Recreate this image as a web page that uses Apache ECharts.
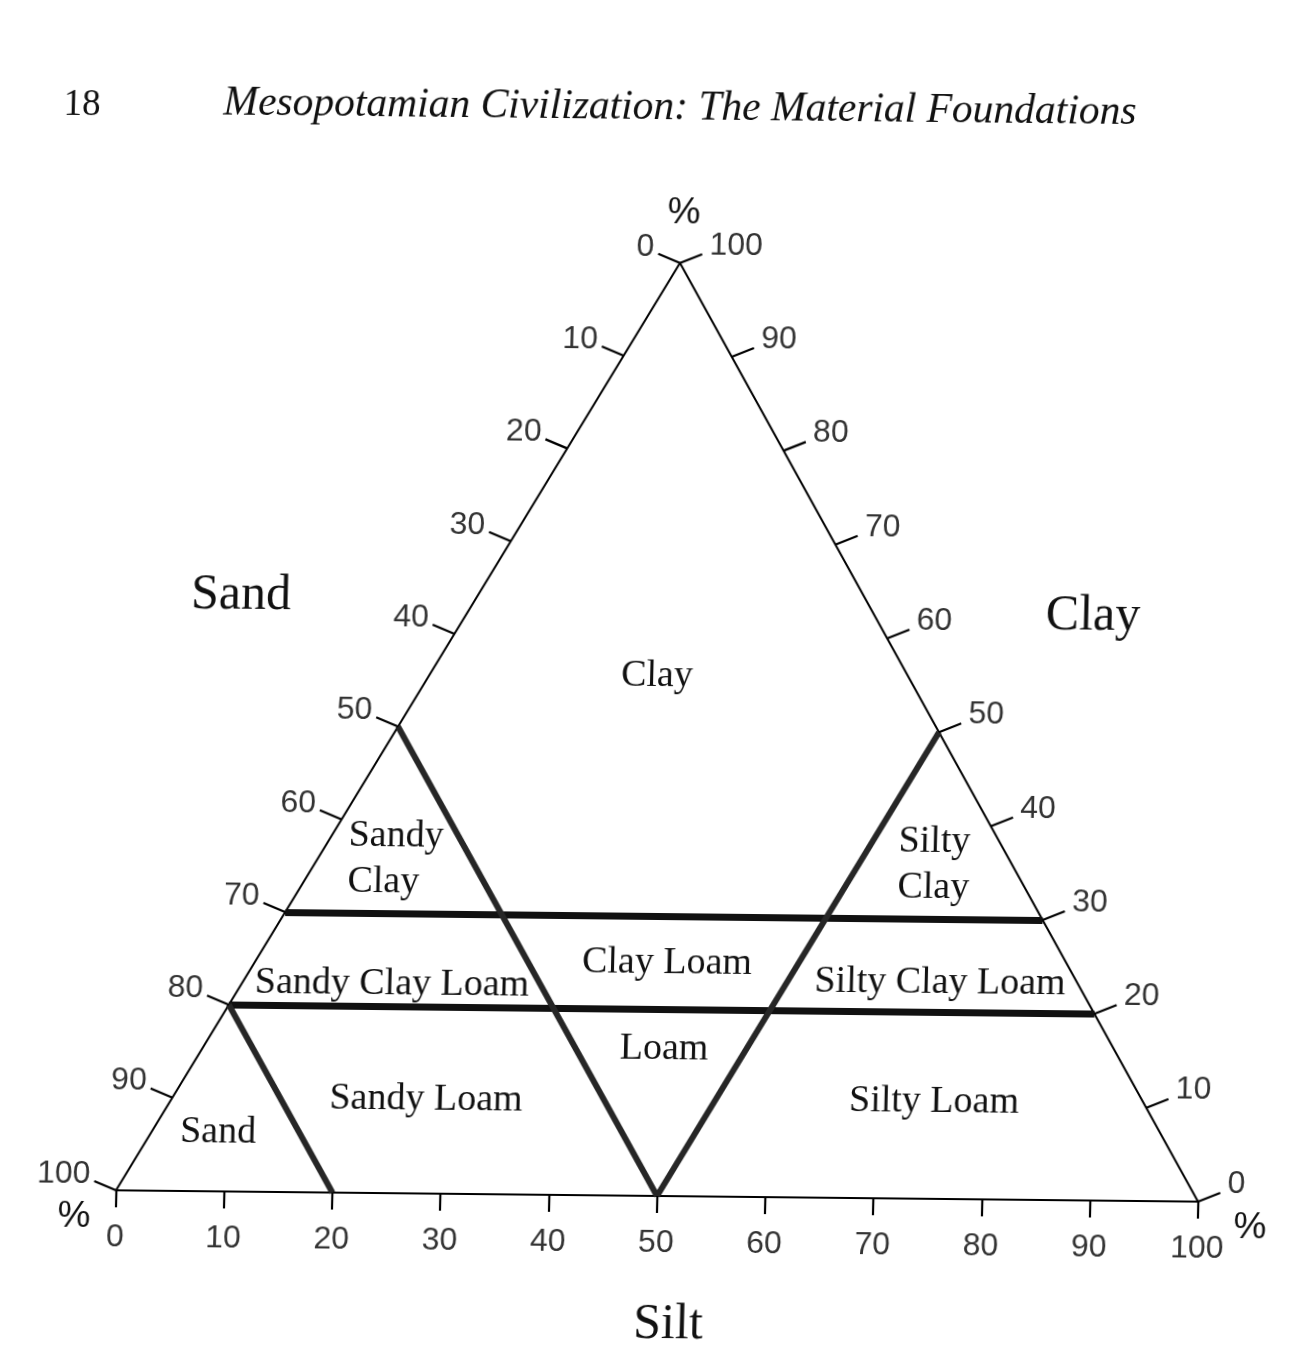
<!DOCTYPE html>
<html><head><meta charset="utf-8">
<script src="https://cdn.jsdelivr.net/npm/echarts@6/dist/echarts.min.js"></script>
<style>
html,body{margin:0;padding:0;background:#fff;overflow:hidden}
#chart{width:1301px;height:1366px;transform-origin:650.5px 683px;transform:rotate(0.6deg) skewX(-0.81deg);}
</style></head><body><div id="chart"></div>
<script>
// ---------- data (compositions are [sand, silt, clay] in %) ----------
const tickValues = [0, 10, 20, 30, 40, 50, 60, 70, 80, 90, 100];
const triangleCorners = [[100, 0, 0], [0, 100, 0], [0, 0, 100]];
const clayBands = [
  [[70, 0, 30], [0, 70, 30]],
  [[80, 0, 20], [0, 80, 20]]
];
const textureDividers = [
  [[50, 0, 50], [50, 50, 0]],
  [[0, 50, 50], [50, 50, 0]],
  [[80, 0, 20], [80, 20, 0]]
];
const regionNames = ['Clay', 'Sandy\nClay', 'Silty\nClay', 'Clay Loam', 'Sandy Clay Loam',
  'Silty Clay Loam', 'Loam', 'Sandy Loam', 'Silty Loam', 'Sand'];
const axisNames = ['Sand', 'Clay', 'Silt'];
const percentSign = '%';
const pageNumber = '18';
const runningHead = 'Mesopotamian Civilization: The Material Foundations';

// ---------- layout / style ----------
const regionLayout = [
  {x: 657, y: 676, align: 'center'}, {x: 348, y: 859, align: 'left'}, {x: 898, y: 865, align: 'left'},
  {x: 667, y: 963, align: 'center'}, {x: 392, y: 984, align: 'center'}, {x: 940, y: 983, align: 'center'},
  {x: 664, y: 1049, align: 'center'}, {x: 426, y: 1100, align: 'center'}, {x: 934, y: 1102, align: 'center'},
  {x: 218, y: 1133, align: 'center'}
];
const axisNameLayout = [{x: 241, y: 596}, {x: 1093, y: 617}, {x: 668, y: 1325}];
const percentLayout = [{x: 684, y: 213}, {x: 74, y: 1217}, {x: 1250, y: 1228}];

const SERIF = '"Liberation Serif", "Times New Roman", serif';
const SANS = '"Liberation Sans", Arial, sans-serif';
const INK = '#000';

// inverse of the CSS tilt (scan rotation), used for free-positioned text
const TH = 0.6 * Math.PI / 180, SK = Math.tan(-0.81 * Math.PI / 180), CX = 650.5, CY = 683;
function pre(X, Y) {
  const dx = X - CX, dy = Y - CY, c = Math.cos(TH), s = Math.sin(TH);
  let rx = dx * c + dy * s; const ry = -dx * s + dy * c;
  rx = rx - SK * ry;
  return [CX + rx, CY + ry];
}

function toXY(comp) { return [comp[1] + comp[2] / 2, comp[2]]; }

// tick vectors in data units (px / px-per-unit)
const PX_X = 1082.1 / 100, PX_Y = 933.3 / 100;
const leftTick = [-22 / PX_X, 9 / PX_Y];
const rightTick = [22 / PX_X, 9 / PX_Y];
const bottomTick = [0, -17 / PX_Y];

function tickSeg(comp, v) {
  const p = toXY(comp);
  return [p, [p[0] + v[0], p[1] + v[1]]];
}

const sandTicks = tickValues.map(s => ({name: String(s), seg: tickSeg([s, 0, 100 - s], leftTick)}));
const clayTicks = tickValues.map(c => ({name: String(c), seg: tickSeg([0, 100 - c, c], rightTick)}));
const siltTicks = tickValues.map(t => ({name: String(t), seg: tickSeg([100 - t, t, 0], bottomTick)}));

const outline = triangleCorners.concat([triangleCorners[0]]).map(toXY);

function txt(x, y, text, font, align, lh) {
  const p = pre(x, y);
  return {
    type: 'text', x: p[0], y: p[1], z: 10,
    style: {
      text: text, font: font, fill: '#111',
      align: align || 'center', verticalAlign: 'middle',
      textAlign: align || 'center', textVerticalAlign: 'middle',
      lineHeight: lh
    }
  };
}

const graphics = [];
regionNames.forEach((n, i) => graphics.push(txt(regionLayout[i].x, regionLayout[i].y, n, '38px ' + SERIF, regionLayout[i].align, 46)));
axisNames.forEach((n, i) => graphics.push(txt(axisNameLayout[i].x, axisNameLayout[i].y, n, '50px ' + SERIF)));
percentLayout.forEach(p => graphics.push(txt(p.x, p.y, percentSign, '37px ' + SANS)));
graphics.push(txt(82, 105, pageNumber, '37px ' + SERIF));
graphics.push(txt(680, 108, runningHead, 'italic 41.5px ' + SERIF));

const tickLabel = {fontFamily: SANS, fontSize: 32, color: INK};

const chart = echarts.init(document.getElementById('chart'));
chart.setOption({
  animation: false,
  backgroundColor: '#fff',
  grid: {left: 128.6, right: 90.3, top: 262.7, bottom: 170},
  xAxis: {type: 'value', min: 0, max: 100, show: false},
  yAxis: {type: 'value', min: 0, max: 100, show: false},
  graphic: graphics,
  series: [
    {type: 'line', data: outline, symbol: 'none', clip: false, lineStyle: {color: INK, width: 2}, z: 2},
    {type: 'lines', coordinateSystem: 'cartesian2d', clip: false,
      data: clayBands.map(b => ({coords: b.map(toXY)})),
      lineStyle: {color: '#111', width: 7, opacity: 1}, z: 3},
    {type: 'lines', coordinateSystem: 'cartesian2d', clip: false,
      data: textureDividers.map(b => ({coords: b.map(toXY)})),
      lineStyle: {color: '#262626', width: 6, opacity: 1}, z: 3},
    {type: 'lines', coordinateSystem: 'cartesian2d', clip: false,
      data: sandTicks.concat(clayTicks, siltTicks).map(t => ({coords: t.seg})),
      lineStyle: {color: INK, width: 2.2, opacity: 1}, z: 4},
    {type: 'scatter', symbolSize: 0, z: 5, clip: false,
      data: sandTicks.map(t => ({name: t.name, value: t.seg[1]})),
      label: Object.assign({show: true, position: 'left', distance: 4, offset: [0, -7], formatter: '{b}'}, tickLabel)},
    {type: 'scatter', symbolSize: 0, z: 5, clip: false,
      data: clayTicks.map(t => ({name: t.name, value: t.seg[1]})),
      label: Object.assign({show: true, position: 'right', distance: 7, offset: [0, -9], formatter: '{b}'}, tickLabel)},
    {type: 'scatter', symbolSize: 0, z: 5, clip: false,
      data: siltTicks.map(t => ({name: t.name, value: t.seg[1]})),
      label: Object.assign({show: true, position: 'bottom', distance: 14, formatter: '{b}'}, tickLabel)}
  ]
});
</script></body></html>
